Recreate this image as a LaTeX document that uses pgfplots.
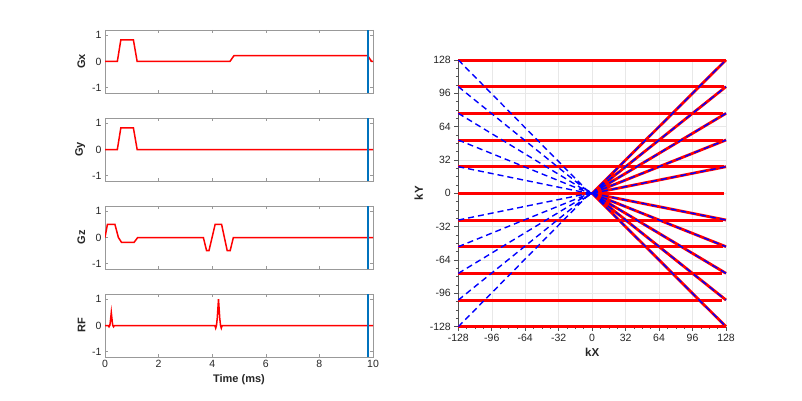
\documentclass[border=0pt]{standalone}
\usepackage{fontspec}
\setmainfont{Liberation Sans}
\usepackage{pgfplots}
\pgfplotsset{compat=1.18}

\definecolor{mred}{rgb}{1,0,0}
\definecolor{mblue}{rgb}{0,0.447,0.741}
\definecolor{kblue}{rgb}{0,0,1}
\definecolor{tickgray}{gray}{0.15}
\definecolor{boxgray}{gray}{0.6}

\pgfplotsset{
 seqax/.style={scale only axis, width=268pt, height=63pt, anchor=south west,
   xmin=0,xmax=10,ymin=-1.2,ymax=1.2, ytick={-1,0,1}, xtick={0,2,...,10},
   tick align=inside, major tick length=3pt,
   axis line style={boxgray, line width=0.6pt}, tick style={boxgray, line width=0.6pt},
   ticklabel style={font=\fontsize{10.5}{12}\selectfont, text=tickgray},
   /pgf/number format/assume math mode=true,
   ylabel style={font=\bfseries\fontsize{11}{13}\selectfont, text=tickgray},
   xlabel style={font=\bfseries\fontsize{11}{13}\selectfont, text=tickgray},
   every axis plot/.append style={line width=1.5pt}},
 kax/.style={scale only axis, width=267.7pt, height=266.7pt, anchor=south west,
   xmin=-128,xmax=128,ymin=-128,ymax=128,
   xtick={-128,-96,...,128}, ytick={-128,-96,...,128}, minor tick num=3,
   axis lines*=left, tick align=outside, major tick length=4pt, minor tick length=2.5pt,
   grid=major, major grid style={gray!18, line width=0.5pt},
   axis line style={tickgray!80, line width=0.6pt}, tick style={tickgray!80, line width=0.6pt},
   ticklabel style={font=\fontsize{10.5}{12}\selectfont, text=tickgray},
   /pgf/number format/assume math mode=true,
   ylabel style={font=\bfseries\fontsize{11.5}{13}\selectfont, text=tickgray},
   xlabel style={font=\bfseries\fontsize{11.5}{13}\selectfont, text=tickgray},
   clip=false}
}

\begin{document}
\begin{tikzpicture}
\path[use as bounding box, fill=white] (0,0) rectangle (802pt,400pt);

% Gx
\begin{axis}[seqax, at={(105pt,307pt)}, xticklabels={}, ylabel={Gx}]
\addplot[mred] coordinates {(0,0) (0.46,0) (0.59,0.82) (1.06,0.82) (1.2,0) (4.66,0) (4.81,0.22) (9.80,0.22) (9.95,0) (10,0)};
\addplot[mblue, line width=1.8pt] coordinates {(9.82,-1.2) (9.82,1.2)};
\end{axis}

% Gy
\begin{axis}[seqax, at={(105pt,219pt)}, xticklabels={}, ylabel={Gy}]
\addplot[mred] coordinates {(0,0) (0.46,0) (0.59,0.82) (1.06,0.82) (1.2,0) (10,0)};
\addplot[mblue, line width=1.8pt] coordinates {(9.82,-1.2) (9.82,1.2)};
\end{axis}

% Gz
\begin{axis}[seqax, at={(105pt,131pt)}, xticklabels={}, ylabel={Gz}]
\addplot[mred] coordinates {(0,0) (0.09,0.5) (0.37,0.5) (0.5,0) (0.62,-0.19) (1.08,-0.19) (1.22,0) (3.67,0) (3.79,-0.5) (3.88,-0.5) (4.11,0.5) (4.35,0.5) (4.56,-0.5) (4.67,-0.5) (4.79,0) (10,0)};
\addplot[mblue, line width=1.8pt] coordinates {(9.82,-1.2) (9.82,1.2)};
\end{axis}

% RF
\begin{axis}[seqax, at={(105pt,43pt)}, ylabel={RF}, xlabel={Time (ms)}]
\addplot[mred] coordinates {(0,0) (0.12,0) (0.15,-0.05) (0.18,0) (0.20,0.15) (0.235,0.5) (0.27,0.15) (0.29,0) (0.32,-0.05) (0.35,0)
 (4.10,0) (4.13,-0.1) (4.16,0) (4.19,0.3) (4.235,1.0) (4.28,0.3) (4.31,0) (4.34,-0.1) (4.37,0) (10,0)};
\addplot[mblue, line width=1.8pt] coordinates {(9.82,-1.2) (9.82,1.2)};
\end{axis}

% k-space
\begin{axis}[kax, at={(458.3pt,73.3pt)}, xlabel={kX}, ylabel={kY}]
\addplot[mred, line width=3pt, unbounded coords=jump] coordinates {
(-128,128) (128,128) (nan,nan)
(-128,102.4) (126.4,102.4) (nan,nan)
(-128,76.8) (125,76.8) (nan,nan)
(-128,51.2) (125,51.2) (nan,nan)
(-128,25.6) (126,25.6) (nan,nan)
(-128,0) (126.5,0) (nan,nan)
(-128,-25.6) (125.5,-25.6) (nan,nan)
(-128,-51.2) (125.5,-51.2) (nan,nan)
(-128,-76.8) (124,-76.8) (nan,nan)
(-128,-102.4) (124,-102.4) (nan,nan)
(-128,-128) (128,-128)};
\addplot[mred, line width=2.8pt, unbounded coords=jump] coordinates {
(0,0) (128,128) (nan,nan)
(0,0) (128,102.4) (nan,nan)
(0,0) (128,76.8) (nan,nan)
(0,0) (128,51.2) (nan,nan)
(0,0) (128,25.6) (nan,nan)
(0,0) (128,-25.6) (nan,nan)
(0,0) (128,-51.2) (nan,nan)
(0,0) (128,-76.8) (nan,nan)
(0,0) (128,-102.4) (nan,nan)
(0,0) (128,-128)};
\addplot[kblue, line width=1.4pt, dash pattern=on 6pt off 4pt, unbounded coords=jump] coordinates {
(0,0) (128,128) (nan,nan)
(0,0) (128,102.4) (nan,nan)
(0,0) (128,76.8) (nan,nan)
(0,0) (128,51.2) (nan,nan)
(0,0) (128,25.6) (nan,nan)
(0,0) (128,-25.6) (nan,nan)
(0,0) (128,-51.2) (nan,nan)
(0,0) (128,-76.8) (nan,nan)
(0,0) (128,-102.4) (nan,nan)
(0,0) (128,-128)};
\addplot[kblue, line width=1.4pt, dash pattern=on 6pt off 4pt, unbounded coords=jump] coordinates {
(-128,128) (-6,4) (0,0) (nan,nan)
(-128,102.4) (-6,3.5) (0,0) (nan,nan)
(-128,76.8) (-7,3) (0,0) (nan,nan)
(-128,51.2) (-7,2) (0,0) (nan,nan)
(-128,25.6) (-8,1) (0,0) (nan,nan)
(-128,-25.6) (-8,-1) (0,0) (nan,nan)
(-128,-51.2) (-7,-2) (0,0) (nan,nan)
(-128,-76.8) (-7,-3) (0,0) (nan,nan)
(-128,-102.4) (-6,-3.5) (0,0) (nan,nan)
(-128,-128) (-6,-4) (0,0)};
\end{axis}
\end{tikzpicture}
\end{document}
